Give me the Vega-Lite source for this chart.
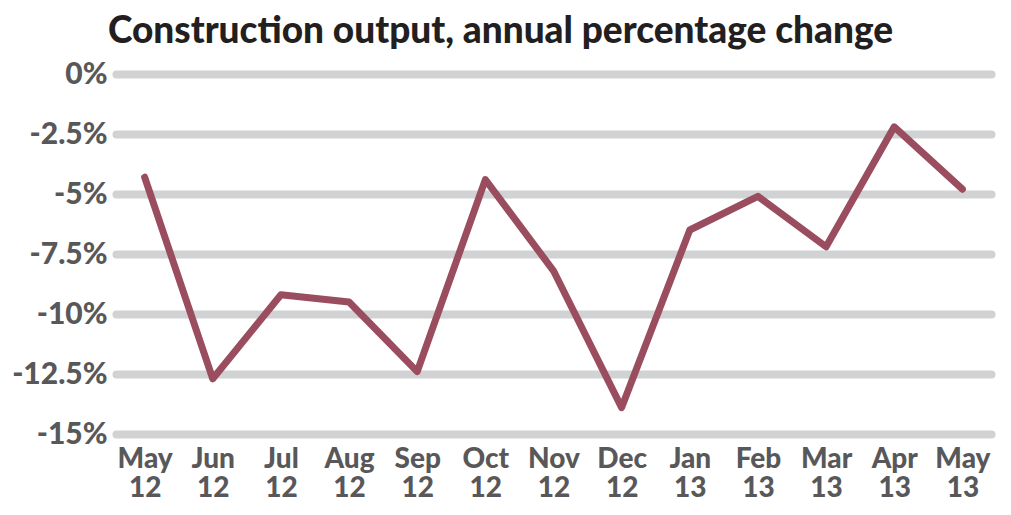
{
  "$schema": "https://vega.github.io/schema/vega-lite/v6.json",
  "width": 875,
  "height": 360,
  "autosize": "none",
  "padding": {"left": 116, "top": 74, "right": 20, "bottom": 81},
  "background": "white",
  "title": {
    "text": "Construction output, annual percentage change",
    "anchor": "start",
    "frame": "group",
    "dx": -8,
    "offset": 8,
    "font": "Lato",
    "fontSize": 37,
    "fontWeight": 900,
    "color": "#231f20"
  },
  "data": {
    "values": [
      {"month": "May 12", "change": -4.3},
      {"month": "Jun 12", "change": -12.7},
      {"month": "Jul 12", "change": -9.2},
      {"month": "Aug 12", "change": -9.5},
      {"month": "Sep 12", "change": -12.4},
      {"month": "Oct 12", "change": -4.4},
      {"month": "Nov 12", "change": -8.2},
      {"month": "Dec 12", "change": -13.9},
      {"month": "Jan 13", "change": -6.5},
      {"month": "Feb 13", "change": -5.1},
      {"month": "Mar 13", "change": -7.2},
      {"month": "Apr 13", "change": -2.2},
      {"month": "May 13", "change": -4.8}
    ]
  },
  "mark": {
    "type": "line",
    "color": "#9a4d5e",
    "strokeWidth": 7,
    "strokeCap": "round",
    "strokeJoin": "round"
  },
  "encoding": {
    "x": {
      "field": "month",
      "type": "ordinal",
      "sort": null,
      "scale": {"type": "point", "padding": 0.42},
      "axis": {
        "title": null,
        "domain": false,
        "ticks": false,
        "grid": false,
        "labelAngle": 0,
        "labelExpr": "split(datum.label, ' ')",
        "labelFont": "Lato",
        "labelFontSize": 28,
        "labelFontWeight": 900,
        "labelColor": "#58585a",
        "labelLineHeight": 29,
        "labelPadding": 11,
        "labelBaseline": "top"
      }
    },
    "y": {
      "field": "change",
      "type": "quantitative",
      "scale": {"domain": [-15, 0], "nice": false, "zero": false},
      "axis": {
        "title": null,
        "values": [0, -2.5, -5, -7.5, -10, -12.5, -15],
        "labelExpr": "datum.value + '%'",
        "domain": false,
        "ticks": false,
        "grid": true,
        "gridColor": "#d1d2d4",
        "gridWidth": 8,
        "gridCap": "round",
        "gridOpacity": 1,
        "labelFont": "Lato",
        "labelFontSize": 30,
        "labelFontWeight": 900,
        "labelColor": "#58585a",
        "labelPadding": 9
      }
    }
  },
  "config": {"view": {"stroke": null}}
}
